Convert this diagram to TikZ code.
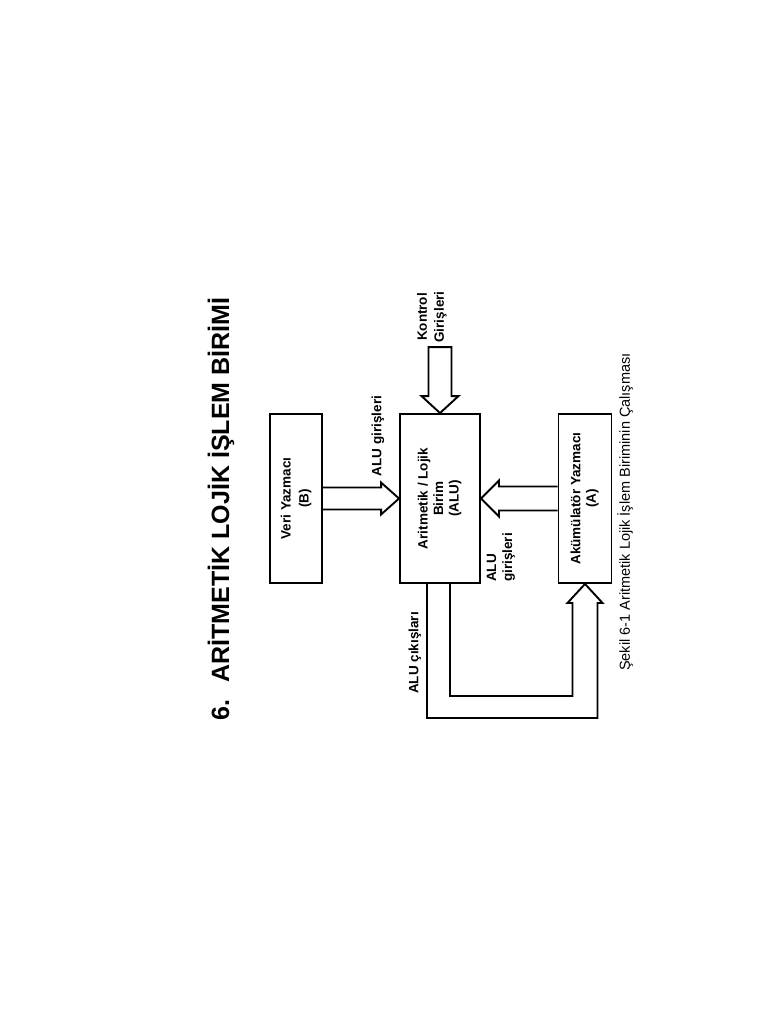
\documentclass[tikz,border=0pt]{standalone}
\usepackage{fontspec}
\setmainfont{Liberation Sans}
\usetikzlibrary{calc}
\begin{document}
\begin{tikzpicture}[x=1pt,y=-1pt,
  box/.style={draw,line width=1.9pt,inner sep=0pt},
  fat/.style={draw,line width=1.9pt,line join=miter},
  bf/.style={font=\bfseries\fontsize{13.5}{#1}\selectfont},
  lbl/.style={rotate=90,inner sep=0pt}]
\useasboundingbox (0,0) rectangle (768,1024);
\fill[white] (0,0) rectangle (768,1024);
% title
\node[rotate=90,font=\bfseries\fontsize{25}{29}\selectfont,inner sep=0pt] (title) at (221,509)
  {6.\hspace{17pt}ARİTMETİK LOJİK İŞLEM BİRİMİ};
% boxes
\node[box,bf=18,minimum width=52pt,minimum height=169pt] (B) at (296,498.5)
  {\rotatebox{90}{\begin{tabular}{@{}c@{}}Veri Yazmacı\\(B)\end{tabular}}};
\node[box,bf=15.5,minimum width=80pt,minimum height=169pt] (ALU) at (440,498.5)
  {\rotatebox{90}{\begin{tabular}{@{}c@{}}Aritmetik / Lojik\\Birim\\(ALU)\end{tabular}}};
\node[box,bf=15.5,minimum width=53pt,minimum height=169pt] (A) at (585,498.5)
  {\rotatebox{90}{\begin{tabular}{@{}c@{}}Akümülatör Yazmacı\\(A)\end{tabular}}};
% labels
\node[lbl,bf=16] (l1) at (378,436) {ALU girişleri};
\node[lbl,bf=16,align=left,anchor=west] (l2) at (501,582) {ALU\\girişleri};
\node[lbl,bf=17,align=center] (kl) at (432,317) {Kontrol\\Girişleri};
\node[lbl,bf=16] (l3) at (415,653) {ALU çıkışları};
\node[lbl,font=\fontsize{14.5}{17}\selectfont] (cap) at (625,512)
  {Şekil 6-1 Aritmetik Lojik İşlem Biriminin Çalışması};
% B -> ALU
\draw[fat] ($(B.east)+(0,-11)$) -- ($(ALU.west)+(-18,-11)$) -- ($(ALU.west)+(-18,-16)$)
  -- (ALU.west) -- ($(ALU.west)+(-18,16)$) -- ($(ALU.west)+(-18,11)$) -- ($(B.east)+(0,11)$);
% A -> ALU
\draw[fat] ($(A.west)+(0,-12)$) -- ($(ALU.east)+(18,-12)$) -- ($(ALU.east)+(18,-18)$)
  -- (ALU.east) -- ($(ALU.east)+(18,18)$) -- ($(ALU.east)+(18,12)$) -- ($(A.west)+(0,12)$);
% Kontrol -> ALU
\coordinate (kin) at ($(ALU.north)+(0,-66)$);
\draw[fat] ($(kin)+(-11.5,0)$) -- ($(ALU.north)+(-11.5,-17)$) -- ($(ALU.north)+(-18.5,-17)$)
  -- (ALU.north) -- ($(ALU.north)+(18.5,-17)$) -- ($(ALU.north)+(11.5,-17)$)
  -- ($(kin)+(11.5,0)$) -- cycle;
% ALU outputs -> A
\draw[fat] ($(ALU.south)+(10,0)$) -- ($(ALU.south)+(10,112)$) -- ($(A.south)+(-12.5,112)$)
  -- ($(A.south)+(-12.5,19)$) -- ($(A.south)+(-17.5,19)$) -- (A.south)
  -- ($(A.south)+(17.5,19)$) -- ($(A.south)+(12.5,19)$) -- ($(A.south)+(12.5,134)$)
  -- ($(ALU.south)+(-13,134)$) -- ($(ALU.south)+(-13,0)$);
\end{tikzpicture}
\end{document}
